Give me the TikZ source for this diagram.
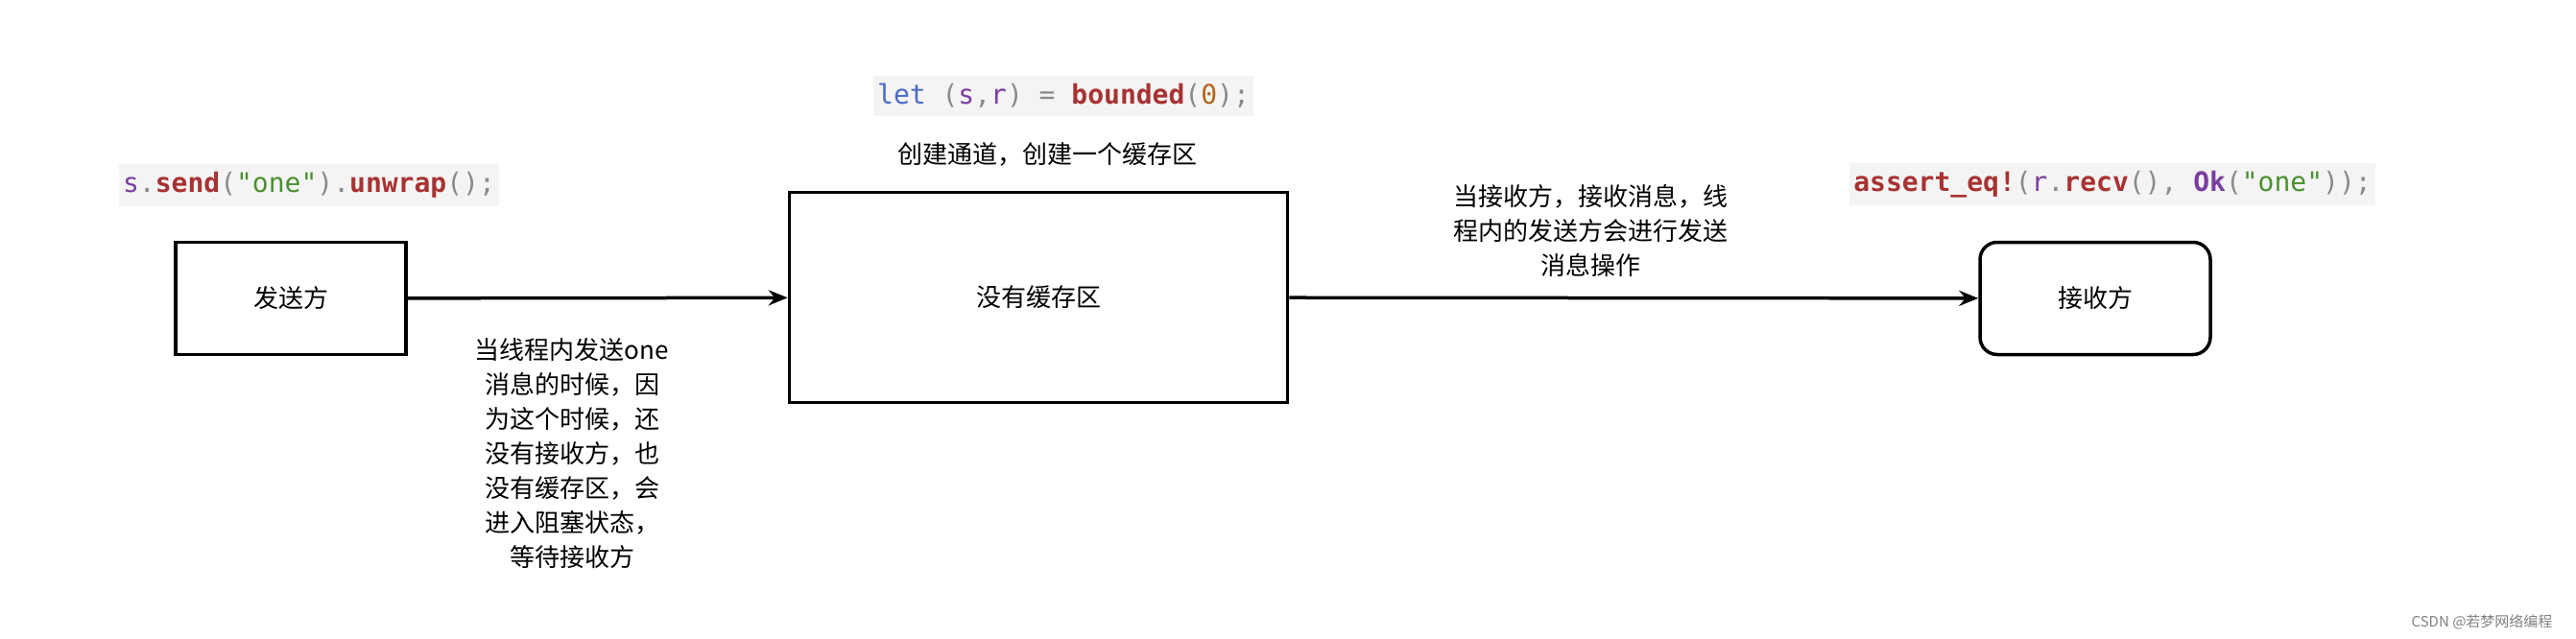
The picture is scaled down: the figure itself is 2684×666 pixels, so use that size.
\documentclass[tikz,border=0pt]{standalone}
\usepackage{fontspec}
\setmainfont{Noto Sans CJK SC}
\newfontfamily\cjk{Noto Sans CJK SC}
\newfontfamily\codefont{DejaVu Sans Mono}
\usetikzlibrary{arrows.meta}
\definecolor{kw}{HTML}{4A6BC8}
\definecolor{fn}{HTML}{A83232}
\definecolor{vr}{HTML}{7A3DA0}
\definecolor{st}{HTML}{4A9030}
\definecolor{nm}{HTML}{B0661C}
\definecolor{pu}{HTML}{8A8A8A}
\definecolor{cbg}{HTML}{F4F4F4}
\begin{document}
\begin{tikzpicture}[x=1pt,y=-1pt,
  box/.style={draw,line width=3.5pt,minimum width=240pt,minimum height=117pt,font=\fontsize{26}{30}\selectfont},
  code/.style={fill=cbg,inner xsep=4pt,inner ysep=8pt,font=\codefont\fontsize{28}{32}\selectfont},
  lbl/.style={align=center,font=\fontsize{26}{36}\selectfont},
  arr/.style={line width=3.5pt,-{Stealth[length=20pt,width=16pt]}}]
\useasboundingbox (0,0) rectangle (2684,666);
\node[box] (send) at (303,311) {发送方};
\node[box,minimum width=519pt,minimum height=219pt] (buf) at (1082,310) {没有缓存区};
\node[box,rounded corners=18pt] (recv) at (2183,311) {接收方};
\node[code] (c1) at (322,193) {\textcolor{vr}{s}\textcolor{pu}{.}\textcolor{fn}{\bfseries send}\textcolor{pu}{(}\textcolor{st}{"one"}\textcolor{pu}{).}\textcolor{fn}{\bfseries unwrap}\textcolor{pu}{();}};
\node[code] (c2) at (1108,100) {\textcolor{kw}{let} \textcolor{pu}{(}\textcolor{vr}{s}\textcolor{pu}{,}\textcolor{vr}{r}\textcolor{pu}{) =} \textcolor{fn}{\bfseries bounded}\textcolor{pu}{(}\textcolor{nm}{0}\textcolor{pu}{);}};
\node[code] (c3) at (2201,192) {\textcolor{fn}{\bfseries assert\_eq!}\textcolor{pu}{(}\textcolor{vr}{r}\textcolor{pu}{.}\textcolor{fn}{\bfseries recv}\textcolor{pu}{(),} \textcolor{vr}{\bfseries Ok}\textcolor{pu}{(}\textcolor{st}{"one"}\textcolor{pu}{));}};
\node[lbl] (t1) at (1091,161) {创建通道，创建一个缓存区};
\node[lbl] (t2) at (596,473) {当线程内发送one\\消息的时候，因\\为这个时候，还\\没有接收方，也\\没有缓存区，会\\进入阻塞状态，\\等待接收方};
\node[lbl] (t3) at (1657,241) {当接收方，接收消息，线\\程内的发送方会进行发送\\消息操作};
\node[font=\fontsize{15}{18}\selectfont,text=gray] (wm) at (2586,648) {CSDN @若梦网络编程};
\draw[arr] (send) -- (buf);
\draw[arr] (buf) -- (recv);
\end{tikzpicture}
\end{document}
